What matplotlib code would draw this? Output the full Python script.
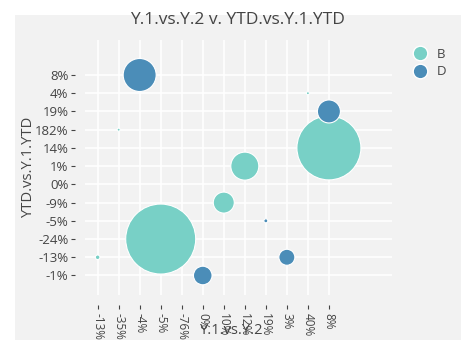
import matplotlib.pyplot as plt
from matplotlib.lines import Line2D
from matplotlib.patches import Rectangle

plt.rcParams['font.family'] = ['Open Sans', 'DejaVu Sans']

# category order on each axis (first = left / bottom)
x_categories = ['-13%', '-35%', '-4%', '-5%', '-76%', '0%', '10%', '12%', '19%', '3%', '40%', '8%']
y_categories = ['-1%', '-13%', '-24%', '-5%', '-9%', '0%', '1%', '14%', '182%', '19%', '4%', '8%']

b_x = ['40%', '-35%', '8%', '12%', '10%', '-5%', '-13%']
b_y = ['4%', '182%', '14%', '1%', '-9%', '-24%', '-13%']
b_size = [3, 3, 64, 28, 21, 70, 4.6]

d_x = ['-4%', '8%', '19%', '3%', '0%']
d_y = ['8%', '19%', '-5%', '-13%', '-1%']
d_size = [33, 23, 4, 16, 18.6]

color_b = '#78d0c6'
color_d = '#4b8db8'
grey = '#f2f2f2'
text_c = '#444444'

fig = plt.figure(figsize=(4.74, 3.54), dpi=100)
fig.patches.append(Rectangle((15 / 474, 14 / 354), 446 / 474, 325 / 354,
                             transform=fig.transFigure, facecolor=grey,
                             edgecolor='none', zorder=-5))

ax = fig.add_axes([85 / 474, 59 / 354, 307 / 474, 255 / 354])
ax.set_zorder(2)
ax.set_facecolor(grey)
for s in ax.spines.values():
    s.set_visible(False)


def to_pos(vals, cats):
    return [cats.index(v) for v in vals]


def area(diam_px):
    return [(d * 0.72) ** 2 for d in diam_px]


ax.scatter(to_pos(b_x, x_categories), to_pos(b_y, y_categories), s=area(b_size),
           color=color_b, edgecolor='white', linewidth=0.8, zorder=3, label='B')
ax.scatter(to_pos(d_x, x_categories), to_pos(d_y, y_categories), s=area(d_size),
           color=color_d, edgecolor='white', linewidth=0.8, zorder=4, label='D')

ax.set_xticks(range(len(x_categories)))
ax.set_xticklabels(x_categories)
ax.set_yticks(range(len(y_categories)))
ax.set_yticklabels(y_categories)
ax.set_xlim(-0.6, 14.0)
ax.set_ylim(-1.07, 12.92)

ax.spines['left'].set_position(('outward', 7))
ax.spines['bottom'].set_position(('outward', 7))
ax.tick_params(axis='both', colors=text_c, length=3, width=0.8, pad=2)
ax.tick_params(axis='y', labelsize=9.5)
ax.tick_params(axis='x', labelsize=8.5, labelrotation=-90, pad=3)
ax.grid(True, color='white', linewidth=1.2)
ax.set_axisbelow(True)

fig.text(237 / 474, 1 - 20 / 354, 'Y.1.vs.Y.2 v. YTD.vs.Y.1.YTD', ha='center',
         va='center', fontsize=12.5, color=text_c)
fig.text(232 / 474, 1 - 331 / 354, 'Y.1.vs.Y.2', ha='center', va='center',
         fontsize=10.5, color=text_c, zorder=5)
fig.text(29 / 474, 1 - 167 / 354, 'YTD.vs.Y.1.YTD', ha='center', va='center',
         rotation=90, fontsize=10.7, color=text_c)

handles = [Line2D([], [], ls='', marker='o', markersize=10.5, markerfacecolor=color_b,
                  markeredgecolor='white', label='B'),
           Line2D([], [], ls='', marker='o', markersize=10.5, markerfacecolor=color_d,
                  markeredgecolor='white', label='D')]
leg = fig.legend(handles=handles, loc='upper left', bbox_to_anchor=(400 / 474, 1 - 41 / 354),
                 frameon=False, fontsize=9.5, labelspacing=0.35, handletextpad=0.3,
                 borderpad=0)
for t in leg.get_texts():
    t.set_color(text_c)

fig.savefig('out.png', dpi=100)
